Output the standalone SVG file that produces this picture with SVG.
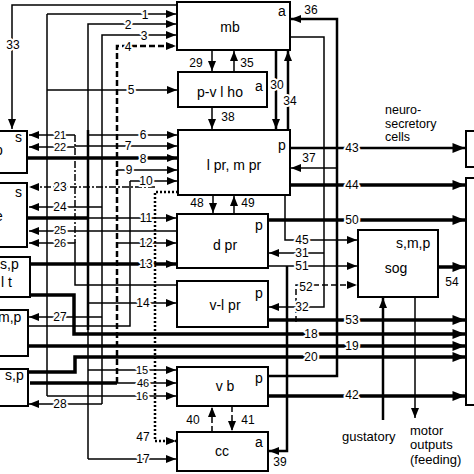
<svg xmlns="http://www.w3.org/2000/svg" width="474" height="474" viewBox="0 0 474 474">
<defs>
<style>
.n rect{fill:#fff;stroke:#000;stroke-width:2}
text{font-family:"Liberation Sans",Arial,Helvetica,sans-serif;fill:#000}
.bt{font-size:14px;text-anchor:middle}
.ct{font-size:14px}
.st{font-size:13px}
.sn{font-size:12.5px}
.l{font-size:12px;text-anchor:middle;paint-order:stroke;stroke:#fff;stroke-width:4px;stroke-linejoin:round}
.s{font-size:11px}
.c path{fill:none;stroke:#000;stroke-width:1.5}
.c .k{stroke-width:3.5}
.c .m{stroke-width:2.5}
.c .d{stroke-dasharray:6 3}
.c .dd{stroke-dasharray:7 2 2 2}
.c .dt{stroke-dasharray:2 2}
.c .a{marker-end:url(#ah)}
.c .A{marker-end:url(#AH)}
</style>
<marker id="ah" viewBox="0 0 10 8" refX="10" refY="4" markerWidth="10" markerHeight="8" markerUnits="userSpaceOnUse" orient="auto"><path d="M0,0 L10,4 L0,8 z" fill="#000"/></marker>
<marker id="AH" viewBox="0 0 10 8" refX="10" refY="4" markerWidth="13" markerHeight="10" markerUnits="userSpaceOnUse" orient="auto"><path d="M0,0 L10,4 L0,8 z" fill="#000"/></marker>
</defs>
<rect width="474" height="474" fill="#fff"/>
<g id="connectors" class="c">
<path d="M177,5 H12 V129" class="a"/>
<path d="M47,14 V396"/>
<path d="M47,14 H176" class="a"/>
<path d="M88,459 V24 H176" class="a"/>
<path d="M88,130 V330" class="m"/>
<path d="M102,404 V35 H176" class="a"/>
<path d="M117,383 V46 H176" class="a m d"/>
<path d="M47,90 H177" class="a"/>
<path d="M88,135 H177" class="a"/>
<path d="M75,146 H177" class="a"/>
<path d="M75,147 H29" class="a"/>
<path d="M75,135 H29" class="a"/>
<path d="M75,135 V243" class="dd"/>
<path d="M28,158 H177" class="a k"/>
<path d="M117,170 H177" class="a"/>
<path d="M130,181 H177" class="a"/>
<path d="M130,181 V326 H28"/>
<path d="M155,187 H29" class="a dd"/>
<path d="M178,192 H155 V441 H176" class="a dt m"/>
<path d="M102,207 H29" class="a"/>
<path d="M28,218 H88" class="k"/>
<path d="M88,218 H176" class="a"/>
<path d="M176,231 H29" class="a"/>
<path d="M176,285 H75 V243 H29" class="a"/>
<path d="M117,243 H176" class="a"/>
<path d="M30,264 H176" class="a k"/>
<path d="M30,295 H74 V334 H465" class="A k"/>
<path d="M88,303 H176" class="a"/>
<path d="M102,317 H29" class="a"/>
<path d="M28,346 H465" class="A k"/>
<path d="M28,372 H75 V357 H465" class="A k"/>
<path d="M88,370 H176" class="a"/>
<path d="M30,383 H117" class="k"/>
<path d="M117,383 H176" class="a"/>
<path d="M47,396 H176" class="a"/>
<path d="M102,404 H29" class="a"/>
<path d="M88,459 H176" class="a"/>
<path d="M212,50 V71" class="a"/>
<path d="M234,72 V51" class="a"/>
<path d="M212,107 V129" class="a"/>
<path d="M276,50 V129" class="a m"/>
<path d="M288,130 V51" class="a m"/>
<path d="M213,195 V213" class="a"/>
<path d="M234,214 V196" class="a"/>
<path d="M212,432 V407" class="a d"/>
<path d="M232,406 V431" class="a d"/>
<path d="M268,376 H337 V19 H291" class="a m"/>
<path d="M336,168 H291" class="a"/>
<path d="M290,37 H324 V307 H269" class="a"/>
<path d="M324,253 H269" class="a"/>
<path d="M290,148 H465" class="A m"/>
<path d="M290,185 H465" class="A k"/>
<path d="M285,195 V240 H357" class="a"/>
<path d="M268,220 H465" class="A k"/>
<path d="M268,266 H357" class="a"/>
<path d="M287,266 V451 H269" class="a m"/>
<path d="M296,322 V285 H357" class="a d"/>
<path d="M268,320 H465" class="A k"/>
<path d="M268,396 H465" class="A k"/>
<path d="M383,420 V298" class="a m"/>
<path d="M415,297 V418" class="a"/>
<path d="M438,267 H465" class="A k"/>
<g>
<text class="l" x="145" y="19">1</text>
<text class="l" x="128" y="29">2</text>
<text class="l" x="144" y="40">3</text>
<text class="l" x="128" y="51">4</text>
<text class="l" x="131" y="94">5</text>
<text class="l" x="143" y="139">6</text>
<text class="l" x="128" y="150">7</text>
<text class="l" x="143" y="163">8</text>
<text class="l" x="129" y="174">9</text>
<text class="l" x="146" y="185">10</text>
<text class="l" x="146" y="222">11</text>
<text class="l" x="146" y="247">12</text>
<text class="l" x="146" y="268">13</text>
<text class="l" x="143" y="307">14</text>
<text class="l s" x="142" y="374">15</text>
<text class="l s" x="143" y="387">46</text>
<text class="l s" x="142" y="400">16</text>
<text class="l" x="143" y="441">47</text>
<text class="l" x="143" y="463">17</text>
<text class="l s" x="60" y="139">21</text>
<text class="l s" x="60" y="151">22</text>
<text class="l" x="60" y="191">23</text>
<text class="l" x="60" y="211">24</text>
<text class="l s" x="60" y="234">25</text>
<text class="l s" x="60" y="247">26</text>
<text class="l" x="60" y="321">27</text>
<text class="l" x="60" y="408">28</text>
<text class="l" x="13" y="49">33</text>
<text class="l" x="196" y="67">29</text>
<text class="l" x="247" y="67">35</text>
<text class="l" x="228" y="121">38</text>
<text class="l" x="277" y="89">30</text>
<text class="l" x="290" y="105">34</text>
<text class="l" x="311" y="14">36</text>
<text class="l" x="309" y="162">37</text>
<text class="l" x="352" y="152">43</text>
<text class="l" x="352" y="189">44</text>
<text class="l" x="352" y="224">50</text>
<text class="l" x="197" y="207">48</text>
<text class="l" x="248" y="207">49</text>
<text class="l" x="302" y="244">45</text>
<text class="l" x="302" y="257">31</text>
<text class="l" x="302" y="270">51</text>
<text class="l" x="306" y="291">52</text>
<text class="l" x="302" y="311">32</text>
<text class="l" x="352" y="324">53</text>
<text class="l" x="311" y="338">18</text>
<text class="l" x="352" y="350">19</text>
<text class="l" x="311" y="361">20</text>
<text class="l" x="352" y="399">42</text>
<text class="l" x="452" y="286">54</text>
<text class="l" x="280" y="466">39</text>
<text class="l" x="193" y="424">40</text>
<text class="l" x="248" y="424">41</text>
</g>
</g>
<g id="mb" class="n"><rect x="177" y="2" width="113" height="48"/><text class="bt" x="230" y="32">mb</text><text class="ct" x="278" y="16">a</text></g>
<g id="pvlho" class="n"><rect x="178" y="72" width="89" height="35"/><text class="bt" x="220" y="97">p-v l ho</text><text class="ct" x="255" y="91">a</text></g>
<g id="lpr" class="n"><rect x="178" y="130" width="112" height="65"/><text class="bt" x="234" y="170">l pr,  m pr</text><text class="ct" x="278" y="150">p</text></g>
<g id="dpr" class="n"><rect x="177" y="214" width="91" height="54"/><text class="bt" x="225" y="250">d pr</text><text class="ct" x="255" y="230">p</text></g>
<g id="vlpr" class="n"><rect x="177" y="281" width="91" height="46"/><text class="bt" x="225" y="310">v-l pr</text><text class="ct" x="255" y="298">p</text></g>
<g id="vb" class="n"><rect x="177" y="367" width="91" height="39"/><text class="bt" x="225" y="391">v b</text><text class="ct" x="255" y="383">p</text></g>
<g id="cc" class="n"><rect x="177" y="432" width="91" height="39"/><text class="bt" x="222" y="456">cc</text><text class="ct" x="255" y="447">a</text></g>
<g id="sog" class="n"><rect x="358" y="230" width="80" height="67"/><text class="bt" x="396" y="273">sog</text><text class="ct" x="396" y="248">s,m,p</text></g>
<g id="ns" class="n"><rect x="466" y="131" width="20" height="36"/></g>
<g id="motor" class="n"><rect x="466" y="178" width="20" height="227"/></g>
<g id="left1" class="n"><rect x="-4" y="131" width="31" height="42"/><text class="ct" x="15" y="142">s</text><text class="ct" x="-5" y="155">p</text></g>
<g id="left2" class="n"><rect x="-4" y="183" width="31" height="64"/><text class="ct" x="15" y="197">s</text><text class="ct" x="-5" y="221">e</text></g>
<g id="left3" class="n"><rect x="-4" y="257" width="34" height="40"/><text class="ct" x="0" y="269">s,p</text><text class="ct" x="1" y="287">l t</text></g>
<g id="left4" class="n"><rect x="-4" y="310" width="32" height="46"/><text class="ct" x="-2" y="322">m,p</text></g>
<g id="left5" class="n"><rect x="-4" y="369" width="32" height="37"/><text class="ct" x="5" y="380">s,p</text></g>
<g id="texts">
<text class="sn" x="385" y="114">neuro-</text>
<text class="sn" x="385" y="127.5">secretory</text>
<text class="sn" x="385" y="141">cells</text>
<text class="st" x="342" y="441">gustatory</text>
<text class="st" x="410" y="435">motor</text>
<text class="st" x="410" y="449">outputs</text>
<text class="st" x="410" y="464">(feeding)</text>
</g>
</svg>
